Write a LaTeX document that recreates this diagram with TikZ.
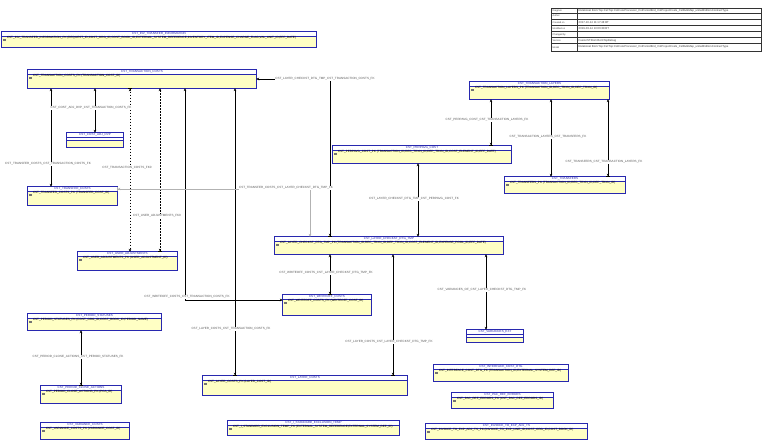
\documentclass[tikz,border=0pt]{standalone}
\usepackage{fontspec}
\setmainfont{Liberation Sans}
\usepackage{tikz}
\usetikzlibrary{arrows.meta, calc, fit}
\usepackage{xcolor}

\definecolor{entblue}{RGB}{40,40,175}
\definecolor{entyellow}{RGB}{255,255,196}
\newcommand{\entfont}{\fontsize{3.05}{3.4}\selectfont}
\newcommand{\legfont}{\fontsize{2.4}{2.8}\selectfont}
\newcommand{\valfont}{\fontsize{2.8}{3.1}\selectfont}

\tikzset{
  entity/.style={inner sep=0pt, fill=entyellow},
  enttitle/.style={font=\entfont, text=entblue, inner sep=0pt},
  entrow/.style={font=\entfont, inner sep=0pt, anchor=west},
  fk/.style={draw=black, line width=0.7pt},
  fkdash/.style={fk, dash pattern=on 1.6pt off 1.4pt},
  fklabel/.style={font=\entfont, text=black!65, fill=white, inner sep=0.4pt},
  legline/.style={draw=black!80, line width=0.5pt},
  legkey/.style={font=\legfont, inner sep=0pt, anchor=west, text=black!75},
  legval/.style={legkey, font=\valfont},
  pkend/.tip={Stealth[length=3pt,width=2.6pt]},
  idend/.tip={Stealth[length=2.4pt,width=2.4pt] Bar[width=3.4pt]},
}

% entity with a primary key row
\newcommand{\keyentity}[7]{%
  \node[entity, fit={(#2,#3) (#4,#5)}] (#1) {};
  \fill[white] (#1.north west) rectangle ($(#1.north east)+(0,4)$);
  \draw[entblue, line width=0.5pt] ($(#1.north west)+(0,4)$) -- ($(#1.north east)+(0,4)$);
  \draw[entblue, line width=0.9pt] (#1.north west) rectangle (#1.south east);
  \node[enttitle] (#1t) at ($(#1.north)+(0,1.9)$) {#6};
  \fill[black!55] ($(#1.north west)+(1.2,7.2)$) rectangle ++(3,2);
  \node[entrow] (#1r) at ($(#1.north west)+(5,5.9)$) {#7};
}
% entity without key
\newcommand{\plainentity}[6]{%
  \node[entity, fit={(#2,#3) (#4,#5)}] (#1) {};
  \fill[white] (#1.north west) rectangle ($(#1.north east)+(0,7)$);
  \draw[entblue, line width=0.5pt] ($(#1.north west)+(0,4)$) -- ($(#1.north east)+(0,4)$);
  \draw[entblue, line width=0.5pt] ($(#1.north west)+(0,7)$) -- ($(#1.north east)+(0,7)$);
  \draw[entblue, line width=0.9pt] (#1.north west) rectangle (#1.south east);
  \node[enttitle] (#1t) at ($(#1.north)+(0,1.9)$) {#6};
}

\begin{document}
\begin{tikzpicture}[x=1pt, y=-1pt]
  \fill[white] (0,0) rectangle (768,444);
  \useasboundingbox (0,0) rectangle (768,444);

  % entities
  \keyentity{inv}{2}{32}{316}{47}{CST\_INV\_TRANSFER\_INFORMATION}{CST\_INV\_TRANSFER\_INFORMATION\_PK (REQUEST\_ID,COST\_ORG\_ID,COST\_BOOK\_ID,EXTERNAL\_SYSTEM\_REFERENCE,INVENTORY\_ITEM\_ID,EXPENSE\_CHARGE\_FLAG,VAL\_UNIT\_ID,EFF\_DATE)}
  \keyentity{tc}{28}{70}{256}{88}{CST\_TRANSACTION\_COSTS}{CST\_TRANSACTION\_COSTS\_PK (TRANSACTION\_COST\_ID)}
  \plainentity{adj}{67}{133}{123}{147}{CST\_COST\_ADJ\_DVP}
  \keyentity{tfc}{28}{187}{117}{205}{CST\_TRANSFER\_COSTS}{CST\_TRANSFER\_COSTS\_PK (TRANSFER\_COST\_ID)}
  \keyentity{ua}{78}{252}{177}{270}{CST\_USER\_ADJUSTMENTS}{CST\_USER\_ADJUSTMENTS\_PK (USER\_ADJUSTMENT\_ID)}
  \keyentity{ps}{28}{314}{161}{330}{CST\_PERIOD\_STATUSES}{CST\_PERIOD\_STATUSES\_PK (COST\_ORG\_ID,COST\_BOOK\_ID,PERIOD\_NAME)}
  \keyentity{pca}{41}{386}{121}{403}{CST\_PERIOD\_CLOSE\_ACTIONS}{CST\_PERIOD\_CLOSE\_ACTIONS\_PK (PCA\_ID)}
  \keyentity{vc}{41}{423}{129}{439}{CST\_VARIANCE\_COSTS}{CST\_VARIANCE\_COSTS\_PK (VARIANCE\_COST\_ID)}
  \keyentity{lc}{203}{376}{407}{395}{CST\_LAYER\_COSTS}{CST\_LAYER\_COSTS\_PK (LAYER\_COST\_ID)}
  \keyentity{se}{228}{421}{399}{435}{CST\_I\_STANDARD\_EXCLUSION\_TEMP}{CST\_I\_STANDARD\_EXCLUSION\_TEMP\_PK (EXTERNAL\_SYSTEM\_REFERENCE,EXTERNAL\_SYSTEM\_REF\_ID)}
  \keyentity{wc}{283}{295}{371}{315}{CST\_WRITEOFF\_COSTS}{CST\_WRITEOFF\_COSTS\_PK (WRITEOFF\_COST\_ID)}
  \keyentity{lcd}{275}{237}{503}{254}{CST\_LAYER\_CHECKST\_DTG\_TMP}{CST\_LAYER\_CHECKST\_DTG\_TMP\_PK (TRANSACTION\_ID,REC\_TRXN\_ID,DEP\_TRXN\_ID,COST\_ELEMENT\_ID,EXPENSE\_POOL\_ID,EFF\_DATE)}
  \keyentity{pc}{333}{146}{511}{163}{CST\_PERPAVG\_COST}{CST\_PERPAVG\_COST\_PK (TRANSACTION\_ID,REC\_TRXN\_ID,DEP\_TRXN\_ID,COST\_ELEMENT\_ID,EFF\_DATE)}
  \keyentity{tl}{470}{82}{609}{99}{CST\_TRANSACTION\_LAYERS}{CST\_TRANSACTION\_LAYERS\_PK (TRANSACTION\_ID,REC\_TRXN\_ID,DEP\_TRXN\_ID)}
  \keyentity{tf}{505}{177}{625}{193}{CST\_TRANSFERS}{CST\_TRANSFERS\_PK (TRANSACTION\_ID,REC\_TRXN\_ID,DEP\_TRXN\_ID)}
  \plainentity{ve}{467}{330}{523}{342}{CST\_VARIANCES\_EXT}
  \keyentity{icd}{434}{365}{568}{381}{CST\_INTERFACE\_COST\_DTG}{CST\_INTERFACE\_COST\_DTG\_PK (TRANSACTION\_ID,EXTERNAL\_SYSTEM\_REF\_ID)}
  \keyentity{pre}{452}{393}{553}{408}{CST\_PAC\_REF\_ERRORS}{CST\_PAC\_REF\_ERRORS\_PK (CST\_PAC\_REF\_ERRORS\_ID)}
  \keyentity{ie}{426}{424}{587}{439}{CST\_INVOICE\_TO\_EXP\_ADJ\_TS}{CST\_INVOICE\_TO\_EXP\_ADJ\_TS\_PK (INVOICE\_TO\_EXP\_LINE\_ID,COST\_ORG\_ID,COST\_BOOK\_ID)}

  % foreign keys
  \draw[fk, pkend-pkend] (51,0 |- tc.south) -- (51,0 |- tfc.north);
  \draw[fk, pkend-pkend] (95,0 |- tc.south) -- (95,0 |- adj.north);
  \draw[fkdash, idend-pkend] (130,0 |- tc.south) -- (130,0 |- ua.north);
  \draw[fkdash, pkend-idend] (160,0 |- tc.south) -- (160,0 |- ua.north);
  \draw[fk, pkend-pkend] (185,0 |- tc.south) |- (wc.west |- 0,300);
  \draw[fk, pkend-idend] (235,0 |- tc.south) -- (235,0 |- lc.north);
  \draw[fk, pkend-idend] (tc.east |- 0,79) -| (330,0 |- lcd.north);
  \draw[fk, draw=black!30, idend-pkend] (tfc.east |- 0,189) -| (310,0 |- lcd.north);
  \draw[fk, pkend-pkend] (418,0 |- pc.south) -- (418,0 |- lcd.north);
  \draw[fk, pkend-idend] (330,0 |- lcd.south) -- (330,0 |- wc.north);
  \draw[fk, pkend-idend] (393,0 |- lcd.south) -- (393,0 |- lc.north);
  \draw[fk, pkend-pkend] (486,0 |- lcd.south) -- (486,0 |- ve.north);
  \draw[fk, pkend-idend] (491,0 |- tl.south) -- (491,0 |- pc.north);
  \draw[fk, pkend-pkend] (551,0 |- tl.south) -- (551,0 |- tf.north);
  \draw[fk, pkend-idend] (608,0 |- tl.south) -- (608,0 |- tf.north);
  \draw[fk, pkend-idend] (81,0 |- ps.south) -- (81,0 |- pca.north);

  % key names
  \node[fklabel] (ladj) at (91,108) {CST\_COST\_ADJ\_DVP\_CST\_TRANSACTION\_COSTS\_FK};
  \node[fklabel] (ltfc) at (48,164) {CST\_TRANSFER\_COSTS\_CST\_TRANSACTION\_COSTS\_FK};
  \node[fklabel] (lua1) at (127,168) {CST\_TRANSACTION\_COSTS\_FK0};
  \node[fklabel] (lua2) at (157,216) {CST\_USER\_ADJUSTMENTS\_FK0};
  \node[fklabel] (ltfl) at (286,188) {CST\_TRANSFER\_COSTS\_CST\_LAYER\_CHECKST\_DTG\_TMP\_FK};
  \node[fklabel] (ltcl) at (325,79) {CST\_LAYER\_CHECKST\_DTG\_TMP\_CST\_TRANSACTION\_COSTS\_FK};
  \node[fklabel] (lwct) at (187,297) {CST\_WRITEOFF\_COSTS\_CST\_TRANSACTION\_COSTS\_FK};
  \node[fklabel] (llct) at (231,329) {CST\_LAYER\_COSTS\_CST\_TRANSACTION\_COSTS\_FK};
  \node[fklabel] (lwcl) at (326,273) {CST\_WRITEOFF\_COSTS\_CST\_LAYER\_CHECKST\_DTG\_TMP\_FK};
  \node[fklabel] (llcl) at (389,342) {CST\_LAYER\_COSTS\_CST\_LAYER\_CHECKST\_DTG\_TMP\_FK};
  \node[fklabel] (lvel) at (482,290) {CST\_VARIANCES\_OF\_CST\_LAYER\_CHECKST\_DTG\_TMP\_FK};
  \node[fklabel] (llpc) at (414,199) {CST\_LAYER\_CHECKST\_DTG\_TMP\_CST\_PERPAVG\_COST\_FK};
  \node[fklabel] (lpct) at (487,120) {CST\_PERPAVG\_COST\_CST\_TRANSACTION\_LAYERS\_FK};
  \node[fklabel] (ltlt) at (548,137) {CST\_TRANSACTION\_LAYERS\_CST\_TRANSFERS\_FK};
  \node[fklabel] (ltft) at (604,162) {CST\_TRANSFERS\_CST\_TRANSACTION\_LAYERS\_FK};
  \node[fklabel] (lpca) at (78,357) {CST\_PERIOD\_CLOSE\_ACTIONS\_CST\_PERIOD\_STATUSES\_FK};

  % diagram properties
  \draw[legline] (551,8) rectangle (761,51);
  \draw[legline] (577,8) -- (577,51);
  \foreach \y in {13,19,25.5,31.5,37.5,43.5}
    \draw[legline] (551,\y) -- (761,\y);
  \foreach \y/\k/\v [count=\i] in {
      10.5/Diagram/Relational Bom:Top:Cst:Top:CstCoreProcessor\_CstPeriodEnd\_CstProjectCosts\_CstBulkMap\_unitedEditionContractType,
      16/Author/,
      22.25/Created on/2017-10-14 11:17:48 BT,
      28.5/Modified on/2019-03-14 10:06:38 BT,
      34.5/Changed by/,
      40.5/Version/FusionST:Bom:BomTopDebug,
      47.25/Model/Relational Bom:Top:Cst:Top:CstCoreProcessor\_CstPeriodEnd\_CstProjectCosts\_CstBulkMap\_unitedEditionContractType} {
    \node[legkey] (key\i) at (552.5,\y) {\k};
    \node[legval] (val\i) at (578.5,\y) {\v};
  }
\end{tikzpicture}
\end{document}
